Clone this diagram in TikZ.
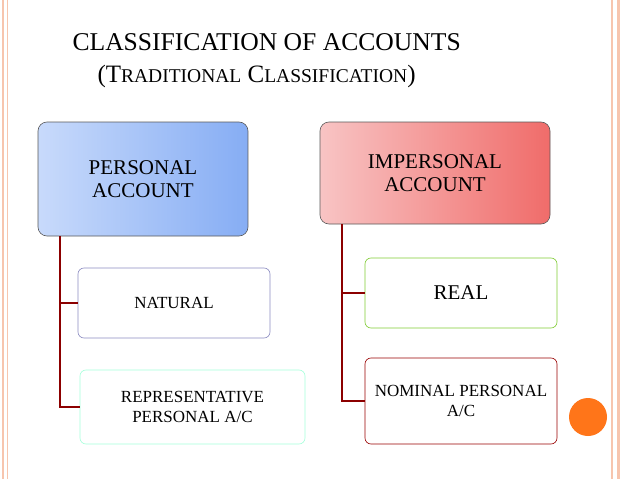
\documentclass[tikz,border=0pt]{standalone}
\usepackage{fontspec}
\setmainfont{Liberation Serif}
\newfontfamily\tnr{Liberation Serif}
\begin{document}
\begin{tikzpicture}[x=1pt,y=-1pt,
  hdr/.style={draw=gray!70!black,line width=0.6pt,rounded corners=9pt,align=center,font=\tnr\fontsize{21}{23}\selectfont},
  sub/.style={draw,line width=0.6pt,rounded corners=6pt,fill=white,align=center},
  conn/.style={draw=red!55!black,line width=1.3pt}]
\useasboundingbox (0,0) rectangle (638,479);
\fill[white] (0,0) rectangle (638,479);
\definecolor{bord}{HTML}{F7C5AE}
\draw[bord,line width=1.5pt] (3,0)--(3,479);
\draw[bord,line width=1pt] (7.5,0)--(7.5,479);
\draw[bord,line width=1.5pt] (612,0)--(612,479);
\draw[bord,line width=3pt] (618,0)--(618,479);
\node[anchor=base west,font=\tnr\fontsize{25.6}{27}\selectfont] (t1) at (69,50) {CLASSIFICATION OF ACCOUNTS};
\node[anchor=base west,font=\tnr\fontsize{25}{26}\selectfont] (t2) at (94,82) {(T{\fontsize{19.5}{20}\selectfont RADITIONAL} C{\fontsize{19.5}{20}\selectfont LASSIFICATION})};
\definecolor{bL}{HTML}{C8DAFB}\definecolor{bR}{HTML}{86ADF4}
\definecolor{rL}{HTML}{F8C4C4}\definecolor{rR}{HTML}{F06C6A}
\node[hdr,left color=bL,right color=bR,minimum width=210,minimum height=114] (pa) at (143,179) {PERSONAL\\ACCOUNT};
\node[hdr,left color=rL,right color=rR,minimum width=230,minimum height=102] (ia) at (435,173) {IMPERSONAL\\ACCOUNT};
\node[sub,draw=blue!30!gray!70,minimum width=192,minimum height=70,font=\tnr\fontsize{17}{20}\selectfont] (na) at (174,303) {NATURAL};
\node[sub,draw=green!40!cyan!35,minimum width=225,minimum height=74,font=\tnr\fontsize{17}{20}\selectfont] (rp) at (192.5,407) {REPRESENTATIVE\\PERSONAL A/C};
\node[sub,draw=green!50!yellow!60!gray,minimum width=192,minimum height=70,font=\tnr\fontsize{21}{23}\selectfont] (re) at (461,293) {REAL};
\node[sub,draw=red!60!black,minimum width=192,minimum height=86,font=\tnr\fontsize{17}{20}\selectfont] (no) at (461,401) {NOMINAL PERSONAL\\A/C};
\coordinate (pt) at ([xshift=-83]pa.south);
\coordinate (it) at ([xshift=-93]ia.south);
\draw[conn] (pt) |- (na.west);
\draw[conn] (pt) |- (rp.west);
\draw[conn] (it) |- (re.west);
\draw[conn] (it) |- (no.west);
\fill[orange!80!red!90] (588,417) circle (19);
\end{tikzpicture}
\end{document}
